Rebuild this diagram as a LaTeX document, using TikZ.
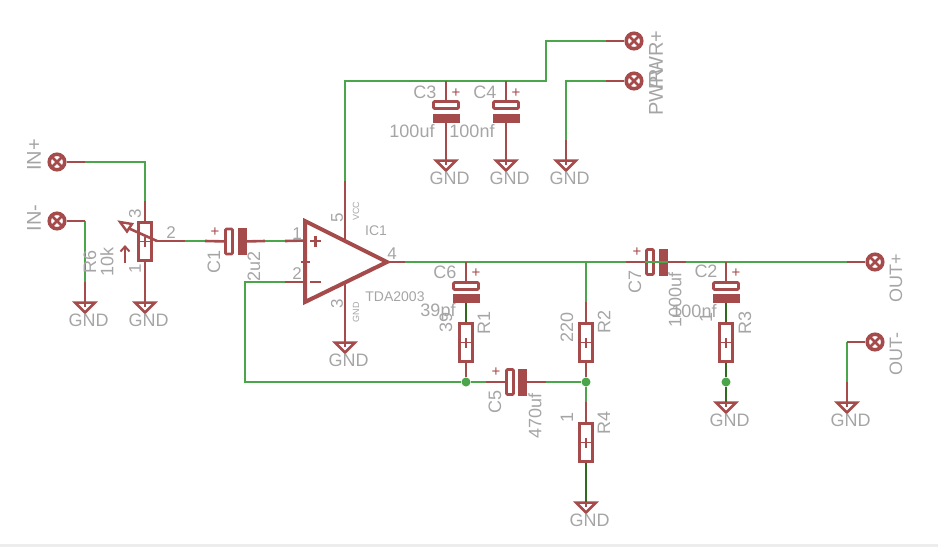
\documentclass[tikz,border=0pt]{standalone}
\usepackage{fontspec}
\setmainfont{Liberation Sans}
\usetikzlibrary{positioning, arrows.meta}
\definecolor{symred}{HTML}{A54B4B}
\definecolor{netgreen}{HTML}{4BA54B}
\definecolor{deepgreen}{HTML}{2F6B1E}
\definecolor{lblgray}{HTML}{A5A5A5}
\tikzset{
  lbl/.style={text=lblgray, inner sep=0, font=\fontsize{18}{18}\selectfont},
  biglbl/.style={lbl, font=\fontsize{20}{20}\selectfont},
  pinlbl/.style={lbl, font=\fontsize{17}{17}\selectfont},
  midlbl/.style={lbl, font=\fontsize{14}{14}\selectfont},
  tinylbl/.style={lbl, font=\fontsize{9}{9}\selectfont},
  net/.style={draw=netgreen, line width=2.6pt},
  pin/.style={draw=symred, line width=2.6pt},
  deepnet/.style={draw=deepgreen, line width=2.8pt},
  res/.style={draw=symred, line width=3pt, inner sep=0, minimum width=12.5pt, minimum height=38.5pt,
    path picture={\draw[symred, line width=1.2pt]
      ([xshift=-5pt]path picture bounding box.center) -- ([xshift=5pt]path picture bounding box.center)
      ([yshift=-5pt]path picture bounding box.center) -- ([yshift=5pt]path picture bounding box.center);}},
  vbody/.style={draw=symred, line width=2.6pt, inner sep=0, rounded corners=1pt, minimum width=25pt, minimum height=7pt},
  vplate/.style={fill=symred, inner sep=0, minimum width=27pt, minimum height=9pt},
  hbody/.style={draw=symred, line width=2.6pt, inner sep=0, rounded corners=1pt, minimum width=7pt, minimum height=25pt},
  hplate/.style={fill=symred, inner sep=0, minimum width=9pt, minimum height=27pt},
  pad/.style={circle, draw=symred, line width=3.6pt, inner sep=0, minimum size=15.5pt,
    path picture={\draw[symred, line width=2.6pt]
      (path picture bounding box.north west) -- (path picture bounding box.south east)
      (path picture bounding box.north east) -- (path picture bounding box.south west);}},
  dot/.style={circle, fill=netgreen, inner sep=0, minimum size=9pt},
  plus/.style={text=symred, inner sep=0, font=\fontsize{15}{15}\selectfont},
  gndsym/.pic={
    \coordinate (-top) at (0,0);
    \draw[symred, line width=2.5pt, line join=miter] (-10,0.5) -- (10,0.5) -- (0,10.5) -- cycle;
    \draw[symred, line width=1.2pt] (0,0) -- (0,5);
    \node[lbl] (-text) at (3.5,18) {GND};
  }
}
\begin{document}
\begin{tikzpicture}[x=1pt, y=-1pt]
        \useasboundingbox (0,0) rectangle (938,547);
        \fill[black!7] (0,544) rectangle (938,547);

        % Pads
        \node[pad] (inp) at (57,162) {};
        \node[pad] (inm) at (57,221) {};
        \node[pad] (pwrp) at (634,41) {};
        \node[pad] (pwrm) at (634,81) {};
        \node[pad] (outp) at (875,262) {};
        \node[pad] (outm) at (875,342) {};

        % Ground symbols
        \pic (gnda) at (85,302) {gndsym};
        \pic (gndb) at (145,302) {gndsym};
        \pic (gndc) at (345,342) {gndsym};
        \pic (gndd) at (446,160) {gndsym};
        \pic (gnde) at (506,160) {gndsym};
        \pic (gndf) at (566,160) {gndsym};
        \pic (gndg) at (586,502) {gndsym};
        \pic (gndh) at (726,402) {gndsym};
        \pic (gndi) at (847,402) {gndsym};

        % Parts
        \node[res] (r6) at (145,241.5) {};
        \node[res] (r1) at (466,342.5) {};
        \node[res] (r2) at (586,342.5) {};
        \node[res] (r3) at (726,342.5) {};
        \node[res] (r4) at (586,442.5) {};
        \node[hbody] (c1) at (229,241.5) {};
        \node[hplate] (c1p) at (242.5,241.5) {};
        \node[hbody] (c5) at (510,382) {};
        \node[hplate] (c5p) at (522.5,382) {};
        \node[hbody] (c7) at (650,262) {};
        \node[hplate] (c7p) at (663,262) {};
        \node[vbody] (c3) at (446,105) {};
        \node[vplate] (c3p) at (446,118.5) {};
        \node[vbody] (c4) at (506,105) {};
        \node[vplate] (c4p) at (506,118.5) {};
        \node[vbody] (c6) at (466,286) {};
        \node[vplate] (c6p) at (466,298.5) {};
        \node[vbody] (c2) at (726,286) {};
        \node[vplate] (c2p) at (726,298.5) {};

        % Op amp
        \coordinate (ampa) at (305,221);
        \coordinate (ampb) at (305,302);
        \coordinate (out) at (387,262);
        \draw[symred, line width=4pt, line join=miter] (ampa) -- (out) -- (ampb) -- cycle;
        \coordinate (ina) at (305,240.5);
        \coordinate (inb) at (305,282);
        \coordinate (vcc) at (345,240);
        \coordinate (gnd) at (345,283);
        \draw[symred, line width=1.2pt] (301,262) -- (310,262);
        \draw[symred, line width=2.6pt] (310,241) -- (321,241) (315.5,235.5) -- (315.5,246.5);
        \draw[symred, line width=2.6pt] (310,282) -- (321,282);

        % Wire corners
        \coordinate (a1) at (85,162);
        \coordinate (a2) at (145,162);
        \coordinate (a3) at (145,201);
        \coordinate (b1) at (85,221);
        \coordinate (b2) at (85,282);
        \coordinate (d1) at (157,241);
        \coordinate (d2) at (185,241);
        \coordinate (d3) at (205,241);
        \coordinate (e1) at (265,241);
        \coordinate (e2) at (285,241);
        \coordinate (f1) at (285,282);
        \coordinate (f2) at (245,282);
        \coordinate (f3) at (245,382);
        \coordinate (g1) at (345,181);
        \coordinate (g2) at (345,81);
        \coordinate (g3) at (546,81);
        \coordinate (g4) at (546,41);
        \coordinate (g5) at (606,41);
        \coordinate (c3t) at (446,81);
        \coordinate (c4t) at (506,81);
        \coordinate (h1) at (606,81);
        \coordinate (h2) at (566,81);
        \coordinate (h3) at (566,140);
        \coordinate (k1) at (405,262);
        \coordinate (c6t) at (466,262);
        \coordinate (r2t) at (586,262);
        \coordinate (r2m) at (586,302);
        \coordinate (c7l) at (626,262);
        \coordinate (c7r) at (686,262);
        \coordinate (c2t) at (726,262);
        \coordinate (k2) at (847,262);
        \coordinate (m1) at (847,342);
        \coordinate (m2) at (847,382);
        \coordinate (n1) at (486,382);
        \coordinate (n2) at (546,382);
        \coordinate (r4t) at (586,402);
        \node[dot] (ja) at (466,382) {};
        \node[dot] (jb) at (586,382) {};
        \node[dot] (jc) at (726,382) {};

        % Green nets
        \draw[net] (a1) -- (a2) -- (a3);
        \draw[net] (b1) -- (b2);
        \draw[net] (d2) -- (d3);
        \draw[net] (e1) -- (e2);
        \draw[net] (f1) -- (f2) -- (f3) -- (ja) -- (n1);
        \draw[net] (g1) -- (g2) -- (g3) -- (g4) -- (g5);
        \draw[net] (h1) -- (h2) -- (h3);
        \draw[net] (k1) -- (k2);
        \draw[net] (c7l) -- (r2t);
        \draw[net] (r2t) -- (r2m);
        \draw[net] (n2) -- (jb) -- (r4t);
        \draw[net] (m1) -- (m2);

        % Red pins
        \draw[pin] (inp) -- (a1);
        \draw[pin] (inm) -- (b1);
        \draw[pin] (a3) -- (r6.north);
        \draw[pin] (b2) -- (gnda-top);
        \draw[pin] (r6.south) -- (gndb-top);
        \draw[pin] (d1) -- (d2);
        \draw[pin] (d3) -- (c1);
        \draw[pin] (c1p) -- (e1);
        \draw[pin] (e2) -- (ina);
        \draw[pin] (f1) -- (inb);
        \draw[pin] (g1) -- (vcc);
        \draw[pin] (gnd) -- (gndc-top);
        \draw[pin] (out) -- (k1);
        \draw[pin] (pwrp) -- (g5);
        \draw[pin] (pwrm) -- (h1);
        \draw[pin] (h3) -- (gndf-top);
        \draw[pin] (c3t) -- (c3);
        \draw[pin] (c4t) -- (c4);
        \draw[pin] (c3p) -- (gndd-top);
        \draw[pin] (c4p) -- (gnde-top);
        \draw[pin] (c6t) -- (c6);
        \draw[pin] (c2t) -- (c2);
        \draw[pin] (r1.south) -- (ja);
        \draw[pin] (r2m) -- (r2.north);
        \draw[pin] (r2.south) -- (jb);
        \draw[pin] (r4t) -- (r4.north);
        \draw[pin] (n1) -- (c5);
        \draw[pin] (c5p) -- (n2);
        \draw[pin] (c7l) -- (c7);
        \draw[pin] (c7p) -- (c7r);
        \draw[pin] (k2) -- (outp);
        \draw[pin] (m1) -- (outm);
        \draw[pin] (m2) -- (gndi-top);

        % Dark leads
        \draw[deepnet] (c6p) -- (r1.north);
        \draw[deepnet] (c2p) -- (r3.north);
        \draw[deepnet] (r3.south) -- (jc);
        \draw[deepnet] (jc) -- (gndh-top);
        \draw[deepnet] (r4.south) -- (gndg-top);

        % Wiper
        \coordinate (wa) at (128,228);
        \draw[pin] (d1) -- (wa);
        \draw[symred, line width=2.4pt, line join=miter] (120,222) -- (132,224) -- (127,231.5) -- cycle;
        \draw[symred, line width=2pt, -{Straight Barb[length=5pt,width=9pt]}] (125,263) -- (125,245);

        % Labels
        \node[biglbl, rotate=90] (linp) at (34,155) {IN+};
        \node[biglbl, rotate=90] (linm) at (34,218) {IN-};
        \node[biglbl, rotate=90] (lpwrp) at (656,60) {PWR+};
        \node[biglbl, rotate=90] (lpwrm) at (656,89) {PWR-};
        \node[lbl, rotate=90] (loutp) at (896,278) {OUT+};
        \node[lbl, rotate=90] (loutm) at (896,354) {OUT-};
        \node[lbl, rotate=90] (lr6) at (90,262) {R6};
        \node[lbl, rotate=90] (lr6v) at (107,262) {10k};
        \node[pinlbl, rotate=90] (lp3) at (135,214) {3};
        \node[pinlbl, rotate=90] (lp1) at (135,269) {1};
        \node[pinlbl] (lp2) at (171,233) {2};
        \node[lbl, rotate=90] (lc1) at (214,262) {C1};
        \node[lbl, rotate=90] (lc1v) at (254,266) {2u2};
        \node[plus] (pc1) at (215,232) {+};
        \node[pinlbl] (la1) at (297,234) {1};
        \node[pinlbl] (la2) at (297,274) {2};
        \node[pinlbl] (la4) at (392,254) {4};
        \node[pinlbl, rotate=90] (la5) at (337,218) {5};
        \node[pinlbl, rotate=90] (la3) at (337,304) {3};
        \node[tinylbl, rotate=90] (lvcc) at (356,211) {VCC};
        \node[tinylbl, rotate=90] (lgnd) at (356,312) {GND};
        \node[midlbl] (lic) at (376,231) {IC1};
        \node[midlbl] (ltda) at (395,297) {TDA2003};
        \node[lbl] (lc3) at (425,92) {C3};
        \node[plus] (pc3) at (456,93) {+};
        \node[lbl] (lc3v) at (412,131) {100uf};
        \node[lbl] (lc4) at (485,92) {C4};
        \node[plus] (pc4) at (516,93) {+};
        \node[lbl] (lc4v) at (472,131) {100nf};
        \node[lbl] (lc6) at (445,272) {C6};
        \node[plus] (pc6) at (476,273) {+};
        \node[lbl] (lc6v) at (438,312) {39pf};
        \node[lbl, rotate=90] (lr1v) at (446,322) {39};
        \node[lbl, rotate=90] (lr1) at (484,323) {R1};
        \node[plus] (pc5) at (496,372) {+};
        \node[lbl, rotate=90] (lc5) at (495,402) {C5};
        \node[lbl, rotate=90] (lc5v) at (535,416) {470uf};
        \node[lbl, rotate=90] (lr2v) at (567,327) {220};
        \node[lbl, rotate=90] (lr2) at (604,322) {R2};
        \node[lbl, rotate=90] (lr4v) at (567,417) {1};
        \node[lbl, rotate=90] (lr4) at (604,423) {R4};
        \node[plus] (pc7) at (637,252) {+};
        \node[lbl, rotate=90] (lc7) at (635,282) {C7};
        \node[lbl, rotate=90] (lc7v) at (675,300) {1000uf};
        \node[lbl] (lc2) at (706,271) {C2};
        \node[plus] (pc2) at (736,273) {+};
        \node[lbl] (lc2v) at (694,311) {100nf};
        \node[lbl, rotate=90] (lr3v) at (706,317) {1};
        \node[lbl, rotate=90] (lr3) at (745,323) {R3};
    \end{tikzpicture}
\end{document}
